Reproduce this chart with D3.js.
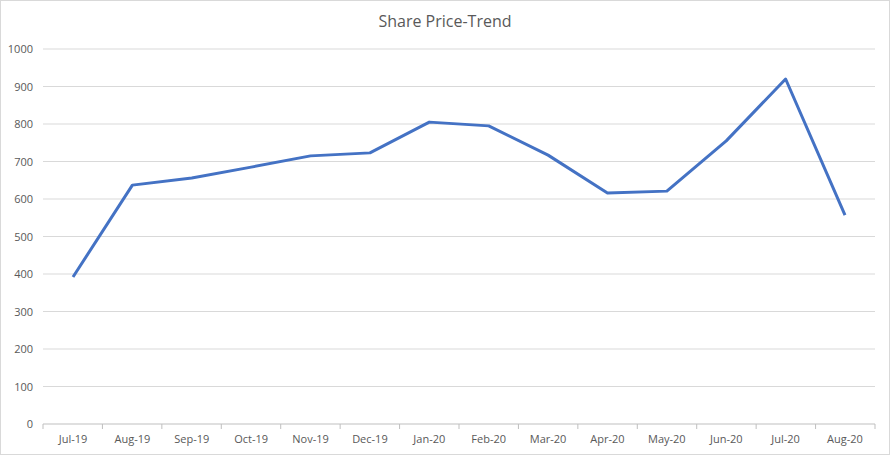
<!DOCTYPE html>
<html><head><meta charset="utf-8">
<script src="https://cdn.jsdelivr.net/npm/d3@7"></script>
<style>body{margin:0;background:#fff}svg{font-family:"Open Sans","Liberation Sans",sans-serif}</style>
</head><body><svg id="c" width="890" height="455"></svg>
<script>
const months = ["Jul-19","Aug-19","Sep-19","Oct-19","Nov-19","Dec-19","Jan-20","Feb-20","Mar-20","Apr-20","May-20","Jun-20","Jul-20","Aug-20"];
const prices = [392,637,656,685,715,723,805,795,717,616,621,755,920,557];
const yTicks = [0,100,200,300,400,500,600,700,800,900,1000];
const title = "Share Price-Trend";

const svg = d3.select("#c");
svg.append("rect").attr("x",0.5).attr("y",0.5).attr("width",889).attr("height",454).attr("fill","#fff").attr("stroke","#d9d9d9");
const x = d3.scalePoint().domain(months).range([73,845]);
const y = d3.scaleLinear().domain([0,1000]).range([424,49]);

svg.append("g").selectAll("line").data(yTicks).join("line")
  .attr("x1",43).attr("x2",875).attr("y1",d=>y(d)).attr("y2",d=>y(d))
  .attr("stroke",d=>d===0?"#bfbfbf":"#d9d9d9").attr("stroke-width",1);

svg.append("g").selectAll("text").data(yTicks).join("text")
  .attr("x",33).attr("y",d=>y(d)+4).attr("text-anchor","end")
  .attr("font-size",11).attr("fill","#595959").text(d=>d);

svg.append("g").selectAll("text").data(months).join("text")
  .attr("x",d=>x(d)).attr("y",443).attr("text-anchor","middle")
  .attr("font-size",11).attr("fill","#595959").text(d=>d);

svg.append("g").selectAll("line").data(d3.range(months.length+1)).join("line")
  .attr("x1",i=>43+i*(832/14)).attr("x2",i=>43+i*(832/14))
  .attr("y1",424).attr("y2",429).attr("stroke","#bfbfbf");

svg.append("path").datum(prices)
  .attr("d",d3.line().x((d,i)=>x(months[i])).y(d=>y(d)))
  .attr("fill","none").attr("stroke","#4472C4").attr("stroke-width",3).attr("stroke-linejoin","round");

svg.append("text").attr("x",445).attr("y",27).attr("text-anchor","middle")
  .attr("font-size",16).attr("fill","#595959").text(title);
</script></body></html>
